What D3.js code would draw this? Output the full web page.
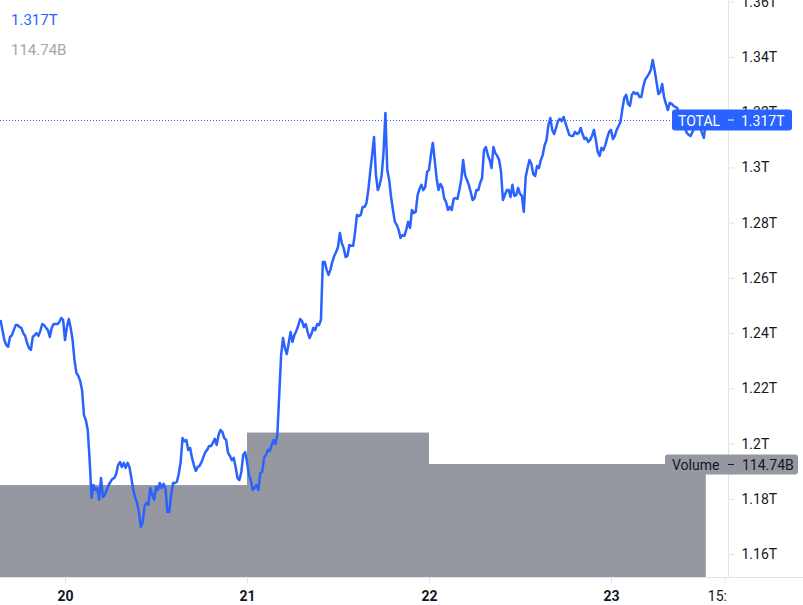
<!DOCTYPE html>
<html>
<head>
<meta charset="utf-8">
<script src="https://cdn.jsdelivr.net/npm/d3@7"></script>
<style>
  html, body { margin: 0; padding: 0; background: #ffffff; }
  svg { display: block; }
  text { font-family: Roboto, "Liberation Sans", sans-serif; }
</style>
</head>
<body>
<svg id="chart" width="803" height="605"></svg>
<script>
// ---- DATA ----
const seriesName = "TOTAL";
const startTime = new Date(2021, 2, 19, 15, 30);   // first bar time
const intervalMinutes = 15;                         // bar spacing
const totalValues = [ // total crypto market cap, trillions
  1.2448,1.2411,1.2375,1.2357,1.2350,1.2386,1.2393,1.2411,1.2429,1.2429,1.2422,1.2419,1.2400,1.2390,1.2364,1.2346,1.2339,1.2386,1.2393,1.2400,
  1.2390,1.2408,1.2433,1.2429,1.2419,1.2411,1.2386,1.2419,1.2433,1.2433,1.2433,1.2440,1.2455,1.2448,1.2375,1.2422,1.2451,1.2419,1.2375,1.2303,
  1.2256,1.2245,1.2227,1.2194,1.2103,1.2085,1.2049,1.1940,1.1803,1.1850,1.1832,1.1839,1.1796,1.1875,1.1806,1.1814,1.1832,1.1850,1.1861,1.1872,
  1.1875,1.1890,1.1922,1.1933,1.1915,1.1930,1.1912,1.1930,1.1915,1.1875,1.1832,1.1806,1.1785,1.1752,1.1698,1.1716,1.1774,1.1785,1.1778,1.1839,
  1.1814,1.1796,1.1843,1.1832,1.1857,1.1839,1.1854,1.1839,1.1752,1.1752,1.1814,1.1857,1.1857,1.1861,1.1890,1.1933,1.2020,1.2009,1.2013,1.1977,
  1.1984,1.1948,1.1922,1.1901,1.1915,1.1919,1.1933,1.1951,1.1969,1.1977,1.1991,1.1991,1.2002,1.2017,1.1995,1.2031,1.2049,1.2042,1.2020,1.2013,
  1.1966,1.1955,1.1940,1.1948,1.1915,1.1875,1.1868,1.1897,1.1959,1.1969,1.1933,1.1886,1.1868,1.1832,1.1839,1.1850,1.1832,1.1893,1.1897,1.1948,
  1.1959,1.1977,1.1973,1.1995,1.2013,1.1998,1.2031,1.2176,1.2321,1.2382,1.2346,1.2324,1.2364,1.2404,1.2368,1.2393,1.2408,1.2426,1.2451,1.2444,
  1.2422,1.2433,1.2404,1.2382,1.2397,1.2419,1.2411,1.2433,1.2429,1.2448,1.2658,1.2658,1.2629,1.2611,1.2629,1.2658,1.2679,1.2694,1.2712,1.2763,
  1.2726,1.2708,1.2676,1.2679,1.2719,1.2716,1.2716,1.2766,1.2828,1.2824,1.2828,1.2857,1.2857,1.2871,1.2918,1.2984,1.3045,1.3110,1.2973,1.2918,
  1.2937,1.2969,1.3052,1.3197,1.2991,1.2955,1.2893,1.2846,1.2803,1.2792,1.2774,1.2745,1.2755,1.2752,1.2774,1.2803,1.2781,1.2846,1.2835,1.2839,
  1.2900,1.2922,1.2937,1.2918,1.2929,1.2984,1.2991,1.3045,1.3089,1.3027,1.2962,1.2918,1.2940,1.2929,1.2889,1.2875,1.2846,1.2857,1.2846,1.2886,
  1.2889,1.2886,1.2918,1.2955,1.3027,1.2973,1.2955,1.2937,1.2911,1.2882,1.2889,1.2918,1.2918,1.2944,1.2962,1.3063,1.3074,1.3045,1.3027,1.2998,
  1.3074,1.3052,1.3042,1.3027,1.2984,1.2882,1.2900,1.2918,1.2918,1.2893,1.2937,1.2897,1.2900,1.2926,1.2904,1.2897,1.2839,1.2966,1.2998,1.3027,
  1.3013,1.2976,1.2969,1.3005,1.2998,1.3027,1.3045,1.3081,1.3100,1.3154,1.3179,1.3136,1.3121,1.3143,1.3168,1.3176,1.3168,1.3183,1.3161,1.3139,
  1.3118,1.3114,1.3114,1.3129,1.3121,1.3125,1.3143,1.3121,1.3103,1.3107,1.3092,1.3100,1.3114,1.3136,1.3100,1.3056,1.3042,1.3071,1.3063,1.3081,
  1.3107,1.3129,1.3136,1.3103,1.3114,1.3136,1.3150,1.3165,1.3212,1.3252,1.3263,1.3230,1.3223,1.3263,1.3273,1.3266,1.3270,1.3255,1.3255,1.3292,
  1.3317,1.3328,1.3339,1.3353,1.3389,1.3353,1.3310,1.3266,1.3273,1.3302,1.3255,1.3230,1.3208,1.3234,1.3230,1.3223,1.3219,1.3215,1.3179,1.3165,
  1.3154,1.3143,1.3125,1.3118,1.3114,1.3129,1.3143,1.3190,1.3201,1.3147,1.3125,1.3107,1.3170
];
const volumeStarts = [new Date(2021,2,19,0,0), new Date(2021,2,21,0,0), new Date(2021,2,22,0,0)];
const volumeEnds   = [new Date(2021,2,21,0,0), new Date(2021,2,22,0,0), new Date(2021,2,23,12,30)];
const volumeValues = [93.4, 146.7, 114.74]; // billions
const priceTicks = [1.16,1.18,1.2,1.22,1.24,1.26,1.28,1.3,1.32,1.34,1.36];
const priceTickLabels = ["1.16T","1.18T","1.2T","1.22T","1.24T","1.26T","1.28T","1.3T","1.32T","1.34T","1.36T"];
const timeTicks = [new Date(2021,2,20), new Date(2021,2,21), new Date(2021,2,22), new Date(2021,2,23), new Date(2021,2,23,15,0)];
const timeTickLabels = ["20","21","22","23","15:00"];
const timeTickBold = [true,true,true,true,false];
const lastValueLabel = "1.317T";
const lastVolumeLabel = "114.74B";

// ---- LAYOUT ----
const W = 803, H = 605;
const plotRight = 728, plotBottom = 577;
const BLUE = "#2962ff", GREY = "#9598a1", TEXT = "#131722", AXIS = "#e0e3eb";

const svg = d3.select("#chart");
const defs = svg.append("defs");

const points = totalValues.map((v, i) => ({
  t: new Date(startTime.getTime() + i * intervalMinutes * 60000),
  v
}));

const x = d3.scaleTime()
  .domain([new Date(2021,2,19,15,25,43), new Date(2021,2,23,15,25,43)])
  .range([0, plotRight]);
const y = d3.scaleLinear().domain([1.15167, 1.36065]).range([plotBottom, 0]);
const yVol = d3.scaleLinear().domain([0, 586]).range([plotBottom, 0]);

defs.append("clipPath").attr("id", "plotClip")
  .append("rect").attr("x", 0).attr("y", 0).attr("width", plotRight).attr("height", plotBottom);

const plot = svg.append("g").attr("clip-path", "url(#plotClip)");

// volume bars
plot.selectAll("rect.vol").data(volumeValues).enter().append("rect")
  .attr("class", "vol")
  .attr("x", (d, i) => x(volumeStarts[i]))
  .attr("width", (d, i) => x(volumeEnds[i]) - x(volumeStarts[i]))
  .attr("y", d => yVol(d))
  .attr("height", d => plotBottom - yVol(d))
  .attr("fill", GREY);

// last value dotted line
const lastV = totalValues[totalValues.length - 1];
const lineY = Math.round(y(lastV)) - 0.5;
plot.append("line")
  .attr("x1", 0).attr("x2", plotRight)
  .attr("y1", lineY).attr("y2", lineY)
  .attr("stroke", BLUE).attr("stroke-width", 1).attr("stroke-dasharray", "1,2");

// price line
plot.append("path").datum(points)
  .attr("fill", "none").attr("stroke", BLUE).attr("stroke-width", 2.5)
  .attr("stroke-linejoin", "round")
  .attr("d", d3.line().x(d => x(d.t)).y(d => y(d.v)));

// right axis
const yAxis = d3.axisRight(y).tickValues(priceTicks)
  .tickFormat((d, i) => priceTickLabels[i]).tickSize(6).tickPadding(7);
const gy = svg.append("g").attr("transform", `translate(${plotRight + 0.5},0)`).call(yAxis);
gy.select(".domain").attr("stroke", AXIS).attr("d", `M0,0V${plotBottom}`);
gy.selectAll(".tick line").attr("stroke", AXIS);
gy.selectAll(".tick text").attr("fill", TEXT).style("font-size", "14px");

// bottom axis
const xAxis = d3.axisBottom(x).tickValues(timeTicks)
  .tickFormat((d, i) => timeTickLabels[i]).tickSize(6).tickPadding(8);
const gx = svg.append("g").attr("transform", `translate(0,${plotBottom + 0.5})`).call(xAxis);
gx.select(".domain").attr("stroke", AXIS).attr("d", `M0,0H${W}`);
gx.selectAll(".tick line").attr("stroke", AXIS);
gx.selectAll(".tick text").attr("fill", TEXT).style("font-size", "14px")
  .style("font-weight", (d, i) => timeTickBold[i] ? "bold" : "normal");
// labels are clipped just before the price-axis edge (tick-local coordinates)
gx.selectAll(".tick").each(function(d, i) {
  const tx = x(d);
  const id = "tickClip" + i;
  defs.append("clipPath").attr("id", id)
    .append("rect").attr("x", -tx).attr("y", -10).attr("width", plotRight - 1.3).attr("height", 40);
  d3.select(this).select("text").attr("clip-path", `url(#${id})`);
});

// legend
svg.append("text").attr("x", 11).attr("y", 25).attr("fill", BLUE)
  .style("font-size", "15px").text(lastValueLabel);
svg.append("text").attr("x", 11).attr("y", 55).attr("fill", "#a3a6af")
  .style("font-size", "15px").text(lastVolumeLabel);

// price label box
const ly = y(lastV);
const pl = svg.append("g");
pl.append("rect").attr("x", 672).attr("y", ly - 11).attr("width", 120).attr("height", 21)
  .attr("rx", 3).attr("fill", BLUE);
pl.append("line").attr("x1", plotRight).attr("x2", plotRight + 6)
  .attr("y1", ly - 0.5).attr("y2", ly - 0.5).attr("stroke", "#ffffff");
pl.append("text").attr("x", 678).attr("y", ly + 5).attr("fill", "#ffffff")
  .style("font-size", "14px").text(seriesName);
pl.append("text").attr("x", plotRight + 13).attr("y", ly + 5).attr("fill", "#ffffff")
  .style("font-size", "14px").text(lastValueLabel);

// volume label box
const vy = yVol(volumeValues[volumeValues.length - 1]);
const vl = svg.append("g");
vl.append("rect").attr("x", 665).attr("y", vy - 9.5).attr("width", 133).attr("height", 20)
  .attr("rx", 3).attr("fill", GREY);
vl.append("line").attr("x1", plotRight).attr("x2", plotRight + 6)
  .attr("y1", vy + 0.5).attr("y2", vy + 0.5).attr("stroke", TEXT);
vl.append("text").attr("x", 672).attr("y", vy + 5.5).attr("fill", TEXT)
  .style("font-size", "14px").text("Volume");
vl.append("text").attr("x", plotRight + 14).attr("y", vy + 5.5).attr("fill", TEXT)
  .style("font-size", "14px").text(lastVolumeLabel);
</script>
</body>
</html>
